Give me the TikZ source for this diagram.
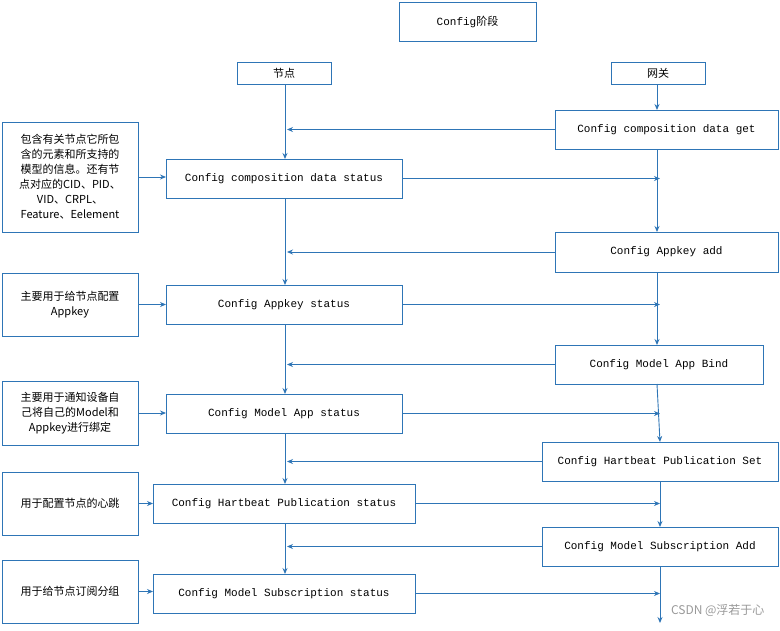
\documentclass[tikz,border=0pt]{standalone}
\usepackage{fontspec}
\setmainfont{Liberation Mono}
\newfontfamily\cjk{Noto Sans CJK SC}
\usetikzlibrary{arrows.meta}
\definecolor{bl}{HTML}{2E75B6}
\begin{document}
\begin{tikzpicture}[x=1pt,y=-1pt,
 box/.style={draw=bl,line width=0.8pt,fill=white},
 arr/.style={draw=bl,line width=0.9pt,-{Stealth[length=6pt,width=5pt]}},
 lab/.style={font=\fontsize{11}{13}\selectfont,align=center},
 note/.style={font=\fontsize{11}{15}\selectfont\cjk,align=center}]
\useasboundingbox (0,0) rectangle (780,630);
\newcommand\bx[6]{\draw[box] (#2,#3) rectangle (#4,#5); \node[lab] (#1) at ({(#2+#4)/2},{(#3+#5)/2}) {#6};
 \coordinate (#1n) at ({(#2+#4)/2},#3); \coordinate (#1s) at ({(#2+#4)/2},#5);
 \coordinate (#1w) at (#2,{(#3+#5)/2}); \coordinate (#1e) at (#4,{(#3+#5)/2});}
\newcommand\nt[6]{\draw[box] (#2,#3) rectangle (#4,#5); \node[note] (#1) at ({(#2+#4)/2},{(#3+#5)/2}) {#6};
 \coordinate (#1e) at (#4,{(#3+#5)/2});}
\bx{T}{399}{2}{536}{41}{Config{\cjk 阶段}}
\bx{N}{237}{62}{331}{84}{\cjk 节点}
\bx{G}{611}{62}{705}{84}{\cjk 网关}
\bx{g1}{555}{110}{778}{149}{Config composition data get}
\bx{s1}{166}{159}{402}{198}{Config composition data status}
\bx{g2}{555}{232}{778}{272}{Config Appkey add}
\bx{s2}{166}{285}{402}{324}{Config Appkey status}
\bx{g3}{555}{345}{763}{384}{Config Model App Bind}
\bx{s3}{166}{394}{402}{433}{Config Model App status}
\bx{g4}{542}{442}{778}{481}{Config Hartbeat Publication Set}
\bx{s4}{153}{484}{415}{523}{Config Hartbeat Publication status}
\bx{g5}{542}{527}{778}{566}{Config Model Subscription Add}
\bx{s5}{153}{574}{415}{613}{Config Model Subscription status}
\nt{n1}{2}{122}{138}{232}{包含有关节点它所包\\含的元素和所支持的\\模型的信息。还有节\\点对应的CID、PID、\\VID、CRPL、\\Feature、Eelement}
\nt{n2}{2}{273}{138}{336}{主要用于给节点配置\\Appkey}
\nt{n3}{2}{381}{138}{445}{主要用于通知设备自\\己将自己的Model和\\Appkey进行绑定}
\nt{n4}{2}{472}{138}{535}{用于配置节点的心跳}
\nt{n5}{2}{560}{138}{623}{用于给节点订阅分组}
% node vertical
\draw[arr] (285,84) -- (285,159);
\draw[arr] (285,198) -- (285,285);
\draw[arr] (285,324) -- (285,394);
\draw[arr] (285,433) -- (285,484);
\draw[arr] (285,523) -- (285,574);
% gateway vertical
\draw[arr] (657,84) -- (657,110);
\draw[arr] (657,149) -- (657,232);
\draw[arr] (657,272) -- (657,345);
\draw[arr] (657,384) -- (660,442);
\draw[arr] (660,481) -- (660,527);
\draw[arr] (660,566) -- (660,623);
% gateway to node
\foreach \g in {g1,g2,g3,g4,g5}{\draw[arr] (\g w) -- (\g w -| 287,0);}
\foreach \s in {s1,s2,s3,s4,s5}{\draw[arr] (\s e) -- (\s e -| 660,0);}
\foreach \i in {1,...,5}{\draw[arr] (n\i e) -- (n\i e -| s\i w);}
\node[font=\fontsize{12}{14}\selectfont\cjk,text=gray!80,anchor=east] (wm) at (768,610) {CSDN @浮若于心};
\end{tikzpicture}
\end{document}
